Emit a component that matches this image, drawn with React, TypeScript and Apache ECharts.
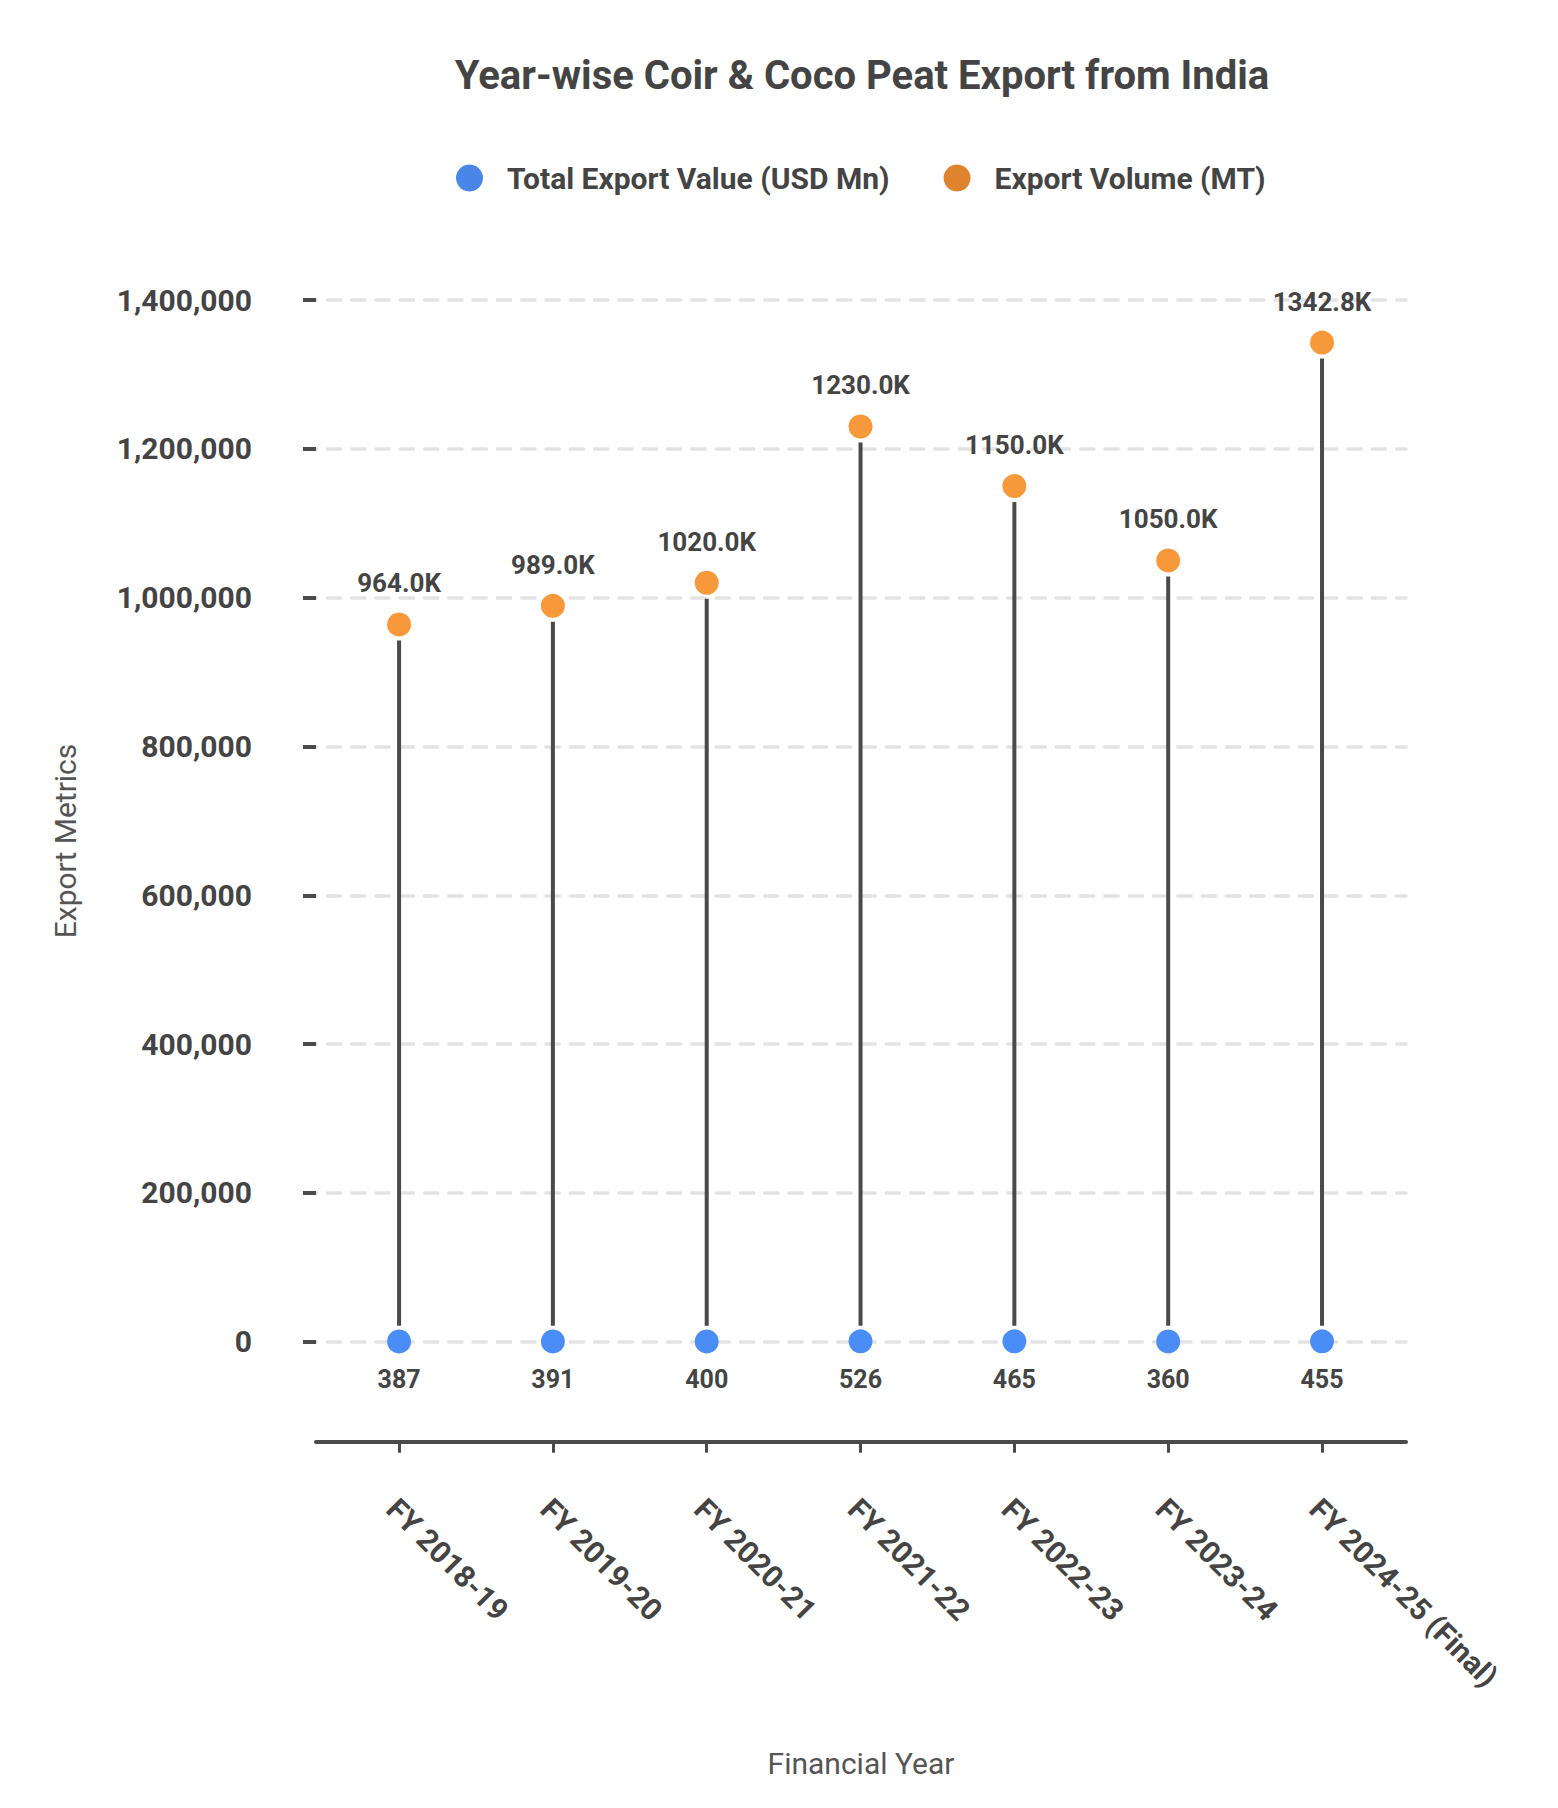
import React, { useEffect, useRef } from "react";
import * as echarts from "echarts";

const categories = [
  "FY 2018-19",
  "FY 2019-20",
  "FY 2020-21",
  "FY 2021-22",
  "FY 2022-23",
  "FY 2023-24",
  "FY 2024-25 (Final)",
];
const exportValueUsdMn = [387, 391, 400, 526, 465, 360, 455];
const exportVolumeMt = [964000, 989000, 1020000, 1230000, 1150000, 1050000, 1342800];
const yTicks = [0, 200000, 400000, 600000, 800000, 1000000, 1200000, 1400000];

const W = 1558;
const H = 1808;
const FONT = "Roboto, 'Noto Sans', sans-serif";
const TEXT = "#444444";

export default function App() {
  const ref = useRef<HTMLDivElement>(null);

  useEffect(() => {
    document.body.style.margin = "0";
    if (!ref.current) return;
    const chart = echarts.init(ref.current, undefined, { renderer: "svg", width: W, height: H });
    const idx = categories.map((_, i) => i);
    const stemData = exportVolumeMt.map((v, i) => [i, v]);
    const volData = exportVolumeMt.map((v, i) => [i, v]);
    const valData = exportValueUsdMn.map((v, i) => [i, v]);
    const R = 12;
    const GAP = 4;

    chart.setOption({
      animation: false,
      backgroundColor: "#ffffff",
      textStyle: { fontFamily: FONT },
      title: {
        text: "Year-wise Coir & Coco Peat Export from India",
        left: 857,
        top: 70,
        textAlign: "center",
        textVerticalAlign: "middle",
        textStyle: { fontFamily: FONT, fontSize: 40, fontWeight: "bold", color: TEXT },
      },
      legend: {
        left: 451,
        top: 158,
        itemWidth: 27,
        itemHeight: 27,
        itemGap: 54,
        icon: "circle",
        textStyle: {
          fontFamily: FONT,
          fontSize: 30,
          fontWeight: "bold",
          color: TEXT,
          padding: [0, 0, 0, 19],
        },
        data: [
          { name: "Total Export Value (USD Mn)", itemStyle: { color: "#4a86e8", opacity: 1 } },
          { name: "Export Volume (MT)", itemStyle: { color: "#e0832f", opacity: 1 } },
        ],
      },
      grid: { left: 316, right: W - 1406, top: 300, bottom: H - 1341.7 },
      xAxis: {
        type: "value",
        min: -0.54,
        max: 6.546,
        offset: 100,
        splitLine: { show: false },
        axisLine: { show: true, onZero: false, lineStyle: { color: "#4a4a4a", width: 4, cap: "round" } },
        axisTick: {
          show: true,
          customValues: idx,
          length: 11,
          lineStyle: { color: "#4a4a4a", width: 3 },
        },
        axisLabel: {
          show: true,
          customValues: idx,
          rotate: -45,
          margin: 55,
          verticalAlign: "top",
          lineHeight: 20,
          fontFamily: FONT,
          fontSize: 30,
          fontWeight: "bold",
          color: TEXT,
          formatter: (v: number) => (Number.isInteger(v) && categories[v] ? categories[v] : ""),
        },
      },
      yAxis: {
        type: "value",
        min: yTicks[0],
        max: yTicks[yTicks.length - 1],
        interval: yTicks[1] - yTicks[0],
        axisLine: { show: false, onZero: false },
        axisTick: { show: true, length: 13, lineStyle: { color: "#4a4a4a", width: 4 } },
        axisLabel: {
          margin: 64,
          fontFamily: FONT,
          fontSize: 30,
          fontWeight: "bold",
          color: TEXT,
          formatter: (v: number) => v.toLocaleString("en-US"),
        },
        splitLine: {
          show: true,
          lineStyle: { color: "#e3e3e3", width: 3.5, type: [13.3, 11], dashOffset: 13.3, cap: "round" },
        },
      },
      graphic: [
        {
          type: "text",
          x: 65,
          y: 841,
          rotation: Math.PI / 2,
          style: {
            text: "Export Metrics",
            align: "center",
            verticalAlign: "middle",
            font: `30px ${FONT}`,
            fill: "#555555",
          },
        },
        {
          type: "text",
          x: 861,
          y: 1763,
          style: {
            text: "Financial Year",
            align: "center",
            verticalAlign: "middle",
            font: `30px ${FONT}`,
            fill: "#555555",
          },
        },
      ],
      series: [
        {
          type: "custom",
          name: "stems",
          silent: true,
          z: 1,
          data: stemData,
          encode: { x: 0, y: 1 },
          renderItem: (params: any, api: any) => {
            const i = api.value(0);
            const top = api.coord([i, api.value(1)]);
            const bottom = api.coord([i, 0]);
            return {
              type: "line",
              shape: { x1: top[0], y1: top[1] + R + GAP, x2: bottom[0], y2: bottom[1] - R - GAP },
              style: { stroke: "#4a4a4a", lineWidth: 4 },
            };
          },
        },
        {
          type: "scatter",
          name: "Total Export Value (USD Mn)",
          z: 3,
          symbol: "circle",
          symbolSize: 24,
          itemStyle: { color: "#4b8df6", opacity: 1 },
          data: valData,
          label: {
            show: true,
            position: "bottom",
            distance: 14,
            fontFamily: FONT,
            fontSize: 25,
            fontWeight: "bold",
            color: TEXT,
            formatter: (p: any) => String(p.value[1]),
          },
        },
        {
          type: "scatter",
          name: "Export Volume (MT)",
          z: 3,
          symbol: "circle",
          symbolSize: 24,
          itemStyle: { color: "#f7993a", opacity: 1 },
          data: volData,
          label: {
            show: true,
            position: "top",
            distance: 16,
            fontFamily: FONT,
            fontSize: 26,
            fontWeight: "bold",
            color: TEXT,
            formatter: (p: any) => (p.value[1] / 1000).toFixed(1) + "K",
          },
        },
      ],
    });
    return () => chart.dispose();
  }, []);

  return <div ref={ref} style={{ width: W, height: H }} />;
}
